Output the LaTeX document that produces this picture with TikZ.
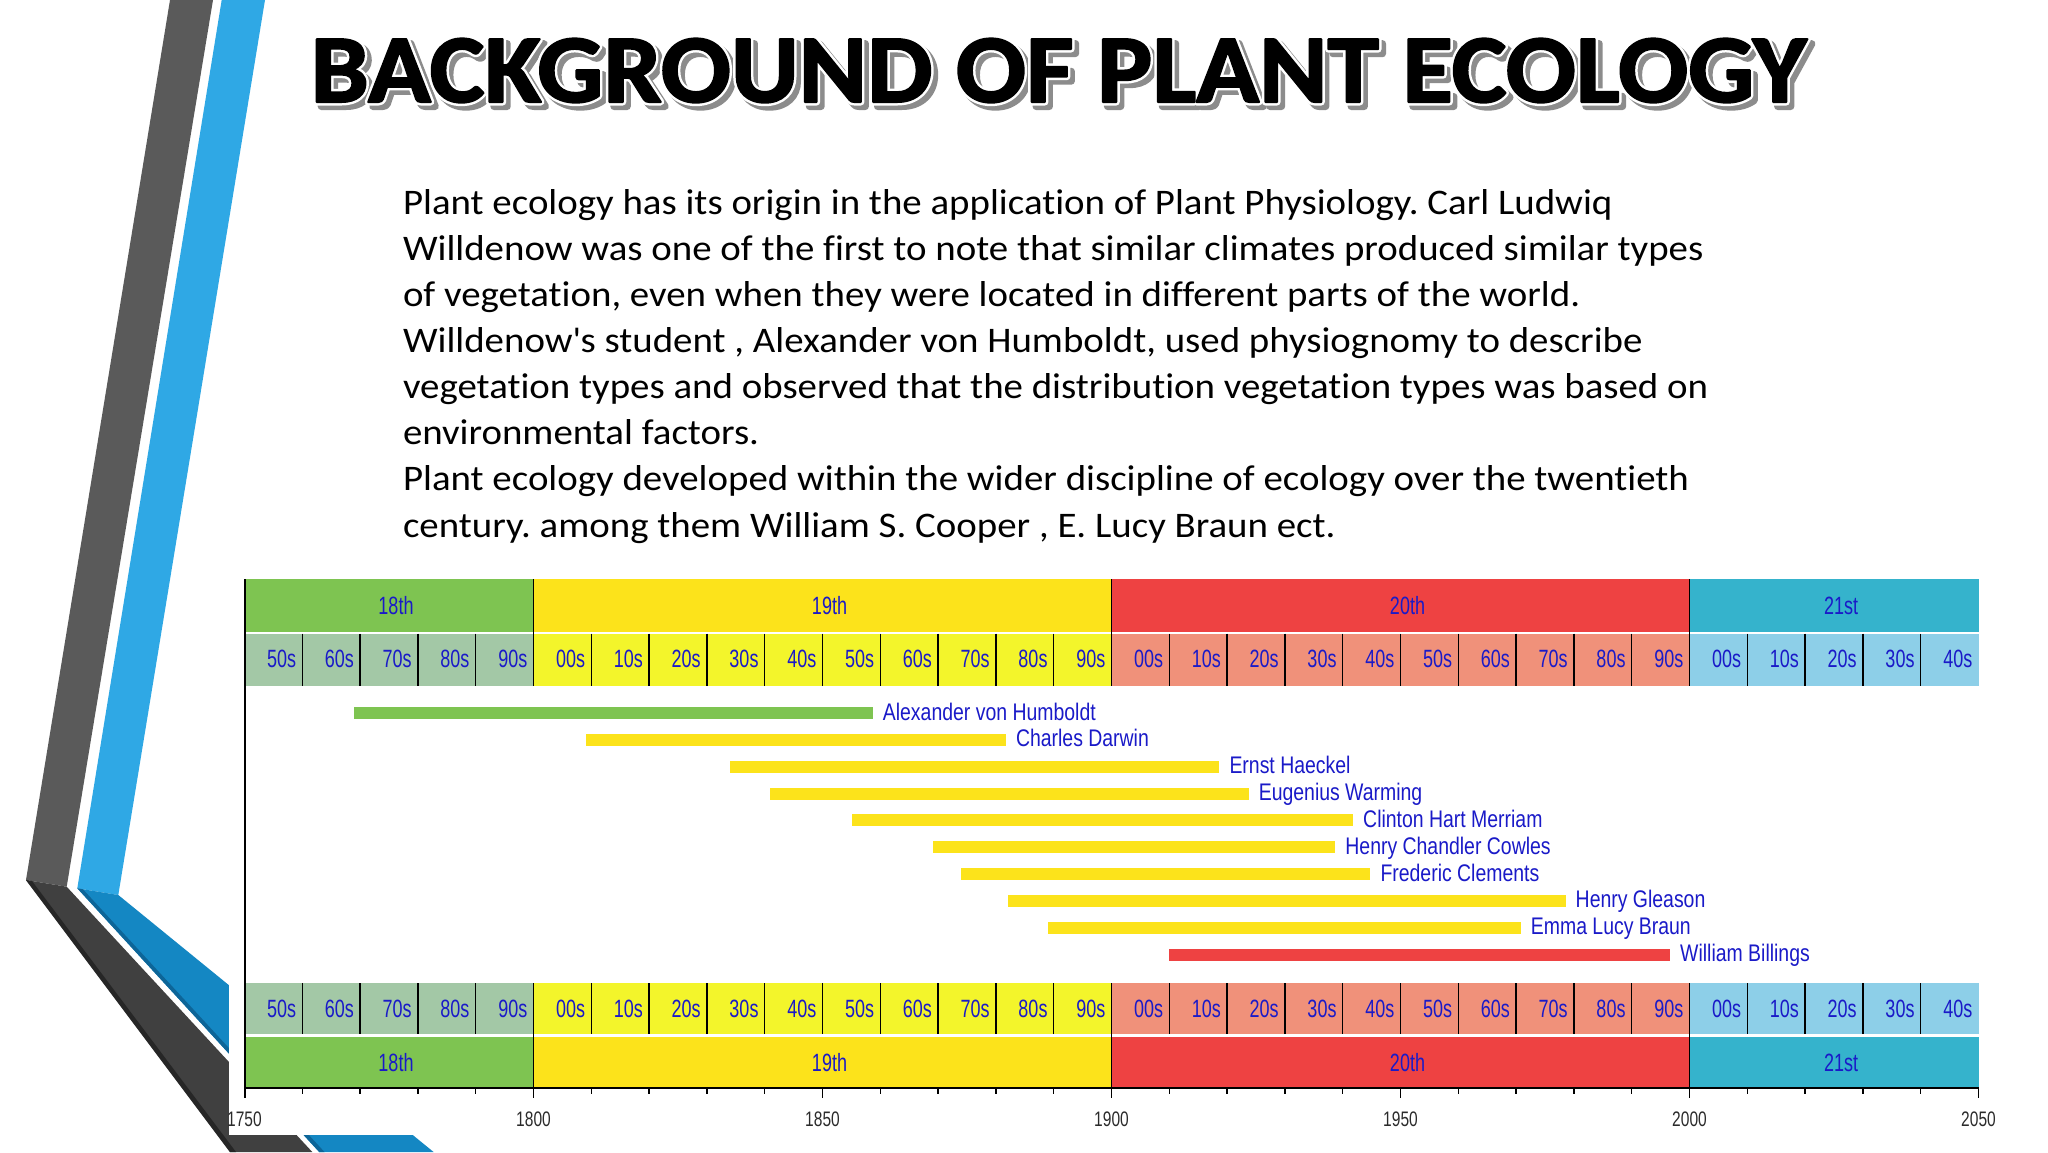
\documentclass[tikz,border=0pt]{standalone}
\usepackage{fontspec}
\setmainfont{Carlito}[Ligatures=NoCommon]
\newfontfamily\bodyfont[FakeStretch=1.08, Ligatures=NoCommon]{Carlito}
\newfontfamily\titlefont[FakeStretch=1.07]{Carlito}
\newfontfamily\decfont[FakeStretch=0.72]{Liberation Sans}
\newfontfamily\namefont[FakeStretch=0.81]{Liberation Sans}
\newfontfamily\yearfont[FakeStretch=0.74]{Liberation Sans}
\definecolor{cgreen}{HTML}{7EC451}
\definecolor{cyellow}{HTML}{FCE31B}
\definecolor{cred}{HTML}{EE4242}
\definecolor{cteal}{HTML}{35B3CC}
\definecolor{dgreen}{HTML}{A3C8A6}
\definecolor{dyellow}{HTML}{F3F52B}
\definecolor{dred}{HTML}{F0917A}
\definecolor{dteal}{HTML}{8DCFE8}
\definecolor{lblue}{HTML}{1A1AC8}
\definecolor{ygray}{HTML}{2B2B2B}
\definecolor{graya}{HTML}{5A5A5A}
\definecolor{grayb}{HTML}{404040}
\definecolor{grayc}{HTML}{262626}
\definecolor{bluea}{HTML}{2FA8E5}
\definecolor{blueb}{HTML}{1487C3}
\definecolor{bluec}{HTML}{0D6598}
\definecolor{shadowgray}{HTML}{8C8C8C}
\newcommand{\yx}[1]{244.5+(#1-1750)*5.78}
\newcommand{\titlestring}{BACKGROUND OF PLANT ECOLOGY}
\tikzset{
  body/.style={anchor=base west, inner sep=0pt, font=\bodyfont\frenchspacing\fontsize{36bp}{46bp}\selectfont, text=black},
  titletext/.style={anchor=base west, inner sep=0pt, font=\titlefont\bfseries\fontsize{97bp}{100bp}\selectfont},
  declabel/.style={anchor=base east, inner sep=0pt, font=\decfont\fontsize{25bp}{25bp}\selectfont, text=lblue},
  centlabel/.style={anchor=base, inner sep=0pt, font=\decfont\fontsize{25bp}{25bp}\selectfont, text=lblue},
  namelabel/.style={anchor=base west, inner sep=0pt, font=\namefont\fontsize{24bp}{24bp}\selectfont, text=lblue},
  yearlabel/.style={anchor=base, inner sep=0pt, font=\yearfont\fontsize{21bp}{21bp}\selectfont, text=ygray},
  sepline/.style={black, line width=1.3bp},
  axisline/.style={black, line width=2bp},
}
\begin{document}
\begin{tikzpicture}[x=1bp,y=-1bp]
\useasboundingbox (0,0) rectangle (2048,1152);
\fill[white] (0,0) rectangle (2048,1152);
% left decoration
\fill[graya] (170,0) -- (213,0) -- (66.7,886.7) -- (26,880) -- cycle;
\fill[grayb] (26,880) -- (66.7,886.7) -- (312.3,1152) -- (230,1152) -- cycle;
\fill[grayc] (26,880) -- (32,881) -- (236,1152) -- (230,1152) -- cycle;
\fill[bluea] (221.7,0) -- (265,0) -- (118.3,895) -- (77.3,888.3) -- cycle;
\fill[blueb] (77.3,888.3) -- (118.3,895) -- (433.6,1152) -- (319.2,1152) -- cycle;
\fill[bluec] (77.3,888.3) -- (83,889.3) -- (324.5,1152) -- (319.2,1152) -- cycle;
% title: shadow, white outline, black
\node[titletext, text=shadowgray] (titleshadow) at (315,106.5) {\special{pdf:literal direct 2 Tr 1 j 0.55 0.55 0.55 RG 7 w}\titlestring\special{pdf:literal direct 0 Tr}};
\node[titletext, text=white] (titleoutline) at (310.5,102) {\special{pdf:literal direct 2 Tr 1 j 1 1 1 RG 7 w}\titlestring\special{pdf:literal direct 0 Tr}};
\node[titletext, text=black] (title) at (310.5,102) {\special{pdf:literal direct 2 Tr 1 j 0 0 0 RG 2 w}\titlestring\special{pdf:literal direct 0 Tr}};
% body text
\node[body] (l1) at (402.8,214.3) {Plant ecology has its origin in the application of Plant Physiology. Carl Ludwiq};
\node[body] (l2) at (402.8,260.4) {Willdenow was one of the first to note that similar climates produced similar types};
\node[body] (l3) at (402.8,306.5) {of vegetation, even when they were located in different parts of the world.};
\node[body] (l4) at (402.8,352.6) {Willdenow\textquotesingle s student , Alexander von Humboldt, used physiognomy to describe};
\node[body] (l5) at (402.8,398.7) {vegetation types and observed that the distribution vegetation types was based on};
\node[body] (l6) at (402.8,444.8) {environmental factors.};
\node[body] (l7) at (402.8,490.9) {Plant ecology developed within the wider discipline of ecology over the twentieth};
\node[body] (l8) at (402.8,537.0) {century. among them William S. Cooper , E. Lucy Braun ect.};
% chart
\begin{scope}
\clip (228.7,560) rectangle (2048,1135);
\fill[white] (228.7,560) rectangle (2048,1135);
\foreach \s/\e/\c/\l in {1750/1800/cgreen/18th, 1800/1900/cyellow/19th, 1900/2000/cred/20th, 2000/2050/cteal/21st}{
  \fill[\c] ({\yx{\s}},579) rectangle ({\yx{\e}},631.5);
  \fill[\c] ({\yx{\s}},1036.5) rectangle ({\yx{\e}},1088.3);
  \node[centlabel] at ({(\yx{\s}+\yx{\e})/2+7},614) {\l};
  \node[centlabel] at ({(\yx{\s}+\yx{\e})/2+7},1071) {\l};
}
\foreach \s/\l/\c in {1750/50s/dgreen,1760/60s/dgreen,1770/70s/dgreen,1780/80s/dgreen,1790/90s/dgreen,
  1800/00s/dyellow,1810/10s/dyellow,1820/20s/dyellow,1830/30s/dyellow,1840/40s/dyellow,1850/50s/dyellow,1860/60s/dyellow,1870/70s/dyellow,1880/80s/dyellow,1890/90s/dyellow,
  1900/00s/dred,1910/10s/dred,1920/20s/dred,1930/30s/dred,1940/40s/dred,1950/50s/dred,1960/60s/dred,1970/70s/dred,1980/80s/dred,1990/90s/dred,
  2000/00s/dteal,2010/10s/dteal,2020/20s/dteal,2030/30s/dteal,2040/40s/dteal}{
  \fill[\c] ({\yx{\s}},633.5) rectangle ({\yx{\s}+57.8},685.5);
  \fill[\c] ({\yx{\s}},983.3) rectangle ({\yx{\s}+57.8},1034.3);
  \node[declabel] at ({\yx{\s}+57.8-6},667.5) {\l};
  \node[declabel] at ({\yx{\s}+57.8-6},1017.5) {\l};
}
\foreach \s in {1760,1770,...,2040}{
  \draw[sepline] ({\yx{\s}},633.5) -- ({\yx{\s}},685.5);
  \draw[sepline] ({\yx{\s}},983.3) -- ({\yx{\s}},1034.3);
  \draw[sepline] ({\yx{\s}},1088.3) -- ({\yx{\s}},1093.5);
}
\foreach \s in {1800,1900,2000}{
  \draw[sepline] ({\yx{\s}},579) -- ({\yx{\s}},685.5);
  \draw[sepline] ({\yx{\s}},983.3) -- ({\yx{\s}},1088.3);
}
\foreach \s in {1750,1800,...,2050}{
  \draw[sepline] ({\yx{\s}},1088.3) -- ({\yx{\s}},1098);
  \node[yearlabel] at ({\yx{\s}},1126) {\s};
}
\draw[axisline] ({\yx{1750}},579) -- ({\yx{1750}},1098);
\draw[axisline] ({\yx{1750}},1088.3) -- ({\yx{2050}},1088.3);
% life bars
\foreach \a/\b/\i/\c/\n in {353.8/872.7/0/cgreen/Alexander von Humboldt,
  586/1005.8/1/cyellow/Charles Darwin,
  729.8/1219.3/2/cyellow/Ernst Haeckel,
  770/1248.6/3/cyellow/Eugenius Warming,
  852/1353/4/cyellow/Clinton Hart Merriam,
  932.9/1335.2/5/cyellow/Henry Chandler Cowles,
  961/1370.3/6/cyellow/Frederic Clements,
  1007.9/1565.5/7/cyellow/Henry Gleason,
  1048/1520.7/8/cyellow/Emma Lucy Braun,
  1169.3/1670/9/cred/William Billings}{
  \fill[\c] (\a,{713+26.85*\i-6}) rectangle (\b,{713+26.85*\i+6});
  \node[namelabel] at (\b+10,{713+26.85*\i+7}) {\n};
}
\end{scope}
\end{tikzpicture}
\end{document}
